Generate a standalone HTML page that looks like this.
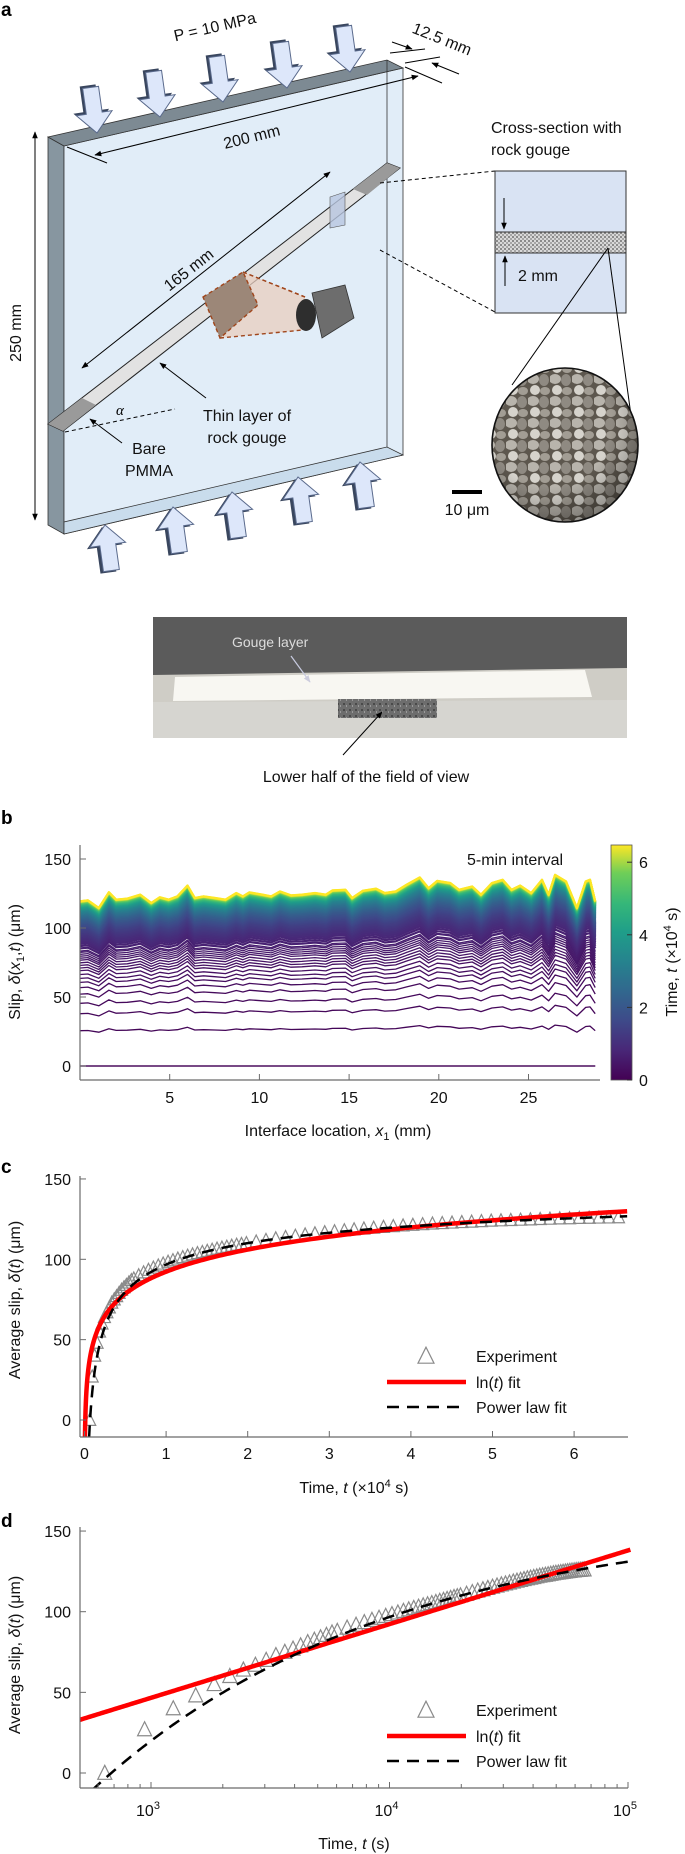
<!DOCTYPE html>
<html><head><meta charset="utf-8">
<style>
html,body{margin:0;padding:0;background:#fff;}
svg{display:block;font-family:"Liberation Sans",sans-serif;}
.t{font-size:16px;fill:#111;}
.lab{font-size:19px;font-weight:bold;fill:#000;}
</style></head>
<body>
<svg id="fig" xmlns="http://www.w3.org/2000/svg" width="685" height="1854" viewBox="0 0 685 1854">
<defs>
  <pattern id="grain" width="22" height="22" patternUnits="userSpaceOnUse">
    <rect width="22" height="22" fill="#5d574e"/>
    <ellipse cx="5" cy="5" rx="6" ry="5" fill="#b8b4ac"/>
    <ellipse cx="16" cy="6" rx="5" ry="6" fill="#8f8a82"/>
    <ellipse cx="7" cy="16" rx="5" ry="5" fill="#d6d3cc"/>
    <ellipse cx="17" cy="17" rx="5" ry="4" fill="#a29d94"/>
  </pattern>
  <pattern id="gougePat" width="4" height="4" patternUnits="userSpaceOnUse">
    <rect width="4" height="4" fill="#d8d8d8"/>
    <rect width="2" height="2" fill="#8a8a8a"/>
    <rect x="2" y="2" width="2" height="2" fill="#a5a5a5"/>
  </pattern>
  <pattern id="speck" width="6" height="6" patternUnits="userSpaceOnUse">
    <rect width="6" height="6" fill="#6d6d6d"/>
    <rect x="1" y="1" width="2" height="2" fill="#4a4a4a"/>
    <rect x="4" y="3" width="1" height="2" fill="#9a9a9a"/>
  </pattern>
  <linearGradient id="viridis" x1="0" y1="1" x2="0" y2="0">
    <stop offset="0" stop-color="#440154"/><stop offset="0.13" stop-color="#482878"/>
    <stop offset="0.25" stop-color="#3e4989"/><stop offset="0.38" stop-color="#31688e"/>
    <stop offset="0.5" stop-color="#26828e"/><stop offset="0.63" stop-color="#1f9e89"/>
    <stop offset="0.75" stop-color="#35b779"/><stop offset="0.88" stop-color="#6ece58"/>
    <stop offset="1" stop-color="#fde725"/>
  </linearGradient>
  <radialGradient id="circShade" cx="0.4" cy="0.35" r="0.7">
    <stop offset="0.6" stop-color="#000" stop-opacity="0"/><stop offset="1" stop-color="#000" stop-opacity="0.35"/>
  </radialGradient>
  <marker id="ah" viewBox="0 0 10 10" refX="9" refY="5" markerWidth="7" markerHeight="7" orient="auto-start-reverse"><path d="M0,1 L10,5 L0,9 Z" fill="#000"/></marker>
  <marker id="ahg" viewBox="0 0 10 10" refX="9" refY="5" markerWidth="6" markerHeight="6" orient="auto"><path d="M0,1 L10,5 L0,9 Z" fill="#ccd"/></marker>
  <clipPath id="clipB"><rect x="80" y="845" width="520" height="235"/></clipPath>
  <clipPath id="clipC"><rect x="80" y="1170" width="560" height="267"/></clipPath>
  <clipPath id="clipD"><rect x="80" y="1522" width="560" height="266"/></clipPath>
  <clipPath id="circClip"><ellipse cx="565" cy="445" rx="73" ry="77"/></clipPath>
</defs>

<!-- ================= PANEL A ================= -->
<g>
  <text class="lab" x="1" y="16">a</text>
  <!-- slab -->
  <polygon points="48,137 64,146 64,534 48,525" fill="#8796a0" stroke="#333" stroke-width="0.8"/>
  <polygon points="64,146 403,68 403,455 64,534" fill="#e1edf8" stroke="#333" stroke-width="0.8"/>
  <polygon points="48,137 387,60 403,68 64,146" fill="#7d8a93" stroke="#333" stroke-width="0.8"/>
  <line x1="387" y1="60" x2="387" y2="447" stroke="#333" stroke-width="0.8"/>
  <polygon points="64,534 403,455 387,447 64,522" fill="#c9dcec" stroke="#333" stroke-width="0.8"/>
  <!-- gouge strip -->
  <polygon points="48,424 387,163 400,168 63,431" fill="#e2e2e2" stroke="#222" stroke-width="1"/>
  <polygon points="48,424 82,398 96,405 63,431" fill="#9a9a9a"/>
  <polygon points="353,189 387,163 400,168 367,195" fill="#9a9a9a"/>
  <polygon points="330,197 345,192 345,225 330,228" fill="#b8c6e0" fill-opacity="0.8" stroke="#555" stroke-width="0.6"/>
  <!-- camera region -->
  <polygon points="203,297 243,272 305,297 303,330 220,338" fill="#e8cdbf" fill-opacity="0.75"/>
  <polygon points="203,297 243,272 258,305 220,338" fill="#9c8778"/>
  <polyline points="243,272 305,297 M0,0" fill="none" stroke="#a0461c" stroke-width="1.4" stroke-dasharray="4,3"/>
  <line x1="243" y1="272" x2="305" y2="297" stroke="#a0461c" stroke-width="1.4" stroke-dasharray="4,3"/>
  <line x1="220" y1="338" x2="303" y2="330" stroke="#a0461c" stroke-width="1.4" stroke-dasharray="4,3"/>
  <polygon points="203,297 243,272 258,305 220,338" fill="none" stroke="#a0461c" stroke-width="1.4" stroke-dasharray="4,3"/>
  <ellipse cx="306" cy="315" rx="10" ry="16" fill="#2e2e2e"/>
  <polygon points="312,293 345,285 354,318 322,338" fill="#6d6d6d" stroke="#333" stroke-width="0.8"/>
  <!-- dims -->
  <line x1="35" y1="132" x2="35" y2="520" stroke="#000" stroke-width="1" marker-start="url(#ah)" marker-end="url(#ah)"/>
  <text class="t" transform="translate(21,333) rotate(-90)" text-anchor="middle">250 mm</text>
  <line x1="95" y1="155" x2="418" y2="76" stroke="#000" stroke-width="1" marker-start="url(#ah)" marker-end="url(#ah)"/>
  <line x1="67" y1="147" x2="107" y2="163" stroke="#000" stroke-width="1"/>
  <text class="t" transform="translate(253,142) rotate(-14)" text-anchor="middle">200 mm</text>
  <line x1="82" y1="368" x2="330" y2="172" stroke="#000" stroke-width="1" marker-start="url(#ah)" marker-end="url(#ah)"/>
  <text class="t" transform="translate(192,274) rotate(-38)" text-anchor="middle">165 mm</text>
  <line x1="390" y1="53" x2="425" y2="49" stroke="#000"/>
  <line x1="405" y1="63" x2="440" y2="57" stroke="#000"/>
  <line x1="405" y1="67" x2="442" y2="83" stroke="#000"/>
  <line x1="392" y1="42" x2="412" y2="49" stroke="#000" marker-end="url(#ah)"/>
  <line x1="459" y1="74" x2="432" y2="63" stroke="#000" marker-end="url(#ah)"/>
  <text class="t" transform="translate(440,44) rotate(22)" text-anchor="middle">12.5 mm</text>
  <text class="t" transform="translate(216,32) rotate(-13)" text-anchor="middle">P = 10 MPa</text>
  <!-- alpha -->
  <line x1="65" y1="432" x2="175" y2="409" stroke="#000" stroke-width="1" stroke-dasharray="4,3"/>
  <text x="116" y="415" style="font-family:'Liberation Serif',serif;font-style:italic;font-size:15px">α</text>
  <line x1="206" y1="398" x2="160" y2="363" stroke="#000" marker-end="url(#ah)"/>
  <text class="t" x="247" y="421" text-anchor="middle">Thin layer of</text>
  <text class="t" x="247" y="443" text-anchor="middle">rock gouge</text>
  <line x1="122" y1="443" x2="90" y2="419" stroke="#000" marker-end="url(#ah)"/>
  <text class="t" x="149" y="454" text-anchor="middle">Bare</text>
  <text class="t" x="149" y="476" text-anchor="middle">PMMA</text>
  <g id="arrows"></g>
  <!-- cross section -->
  <text class="t" x="491" y="133">Cross-section with</text>
  <text class="t" x="491" y="155">rock gouge</text>
  <line x1="380" y1="183" x2="495" y2="171" stroke="#000" stroke-dasharray="4,3"/>
  <line x1="380" y1="250" x2="495" y2="312" stroke="#000" stroke-dasharray="4,3"/>
  <rect x="495" y="171" width="131" height="142" fill="#d9e3f3" stroke="#333" stroke-width="1"/>
  <rect x="495" y="232" width="131" height="21" fill="url(#gougePat)" stroke="#333" stroke-width="1"/>
  <line x1="504" y1="198" x2="504" y2="229" stroke="#000" marker-end="url(#ah)"/>
  <line x1="505" y1="286" x2="505" y2="256" stroke="#000" marker-end="url(#ah)"/>
  <text class="t" x="518" y="281">2 mm</text>
  <line x1="608" y1="248" x2="512" y2="385" stroke="#000"/>
  <line x1="608" y1="248" x2="633" y2="430" stroke="#000"/>
  <g clip-path="url(#circClip)">
    <rect x="490" y="365" width="150" height="160" fill="url(#grain)"/>
    <ellipse cx="565" cy="445" rx="73" ry="77" fill="url(#circShade)"/>
  </g>
  <ellipse cx="565" cy="445" rx="73" ry="77" fill="none" stroke="#111" stroke-width="1.6"/>
  <rect x="452" y="490" width="30" height="4" fill="#000"/>
  <text class="t" x="467" y="515" text-anchor="middle">10 μm</text>
  <!-- photo -->
  <g>
    <rect x="153" y="617" width="474" height="121" fill="#d6d5d0"/>
    <rect x="153" y="617" width="474" height="58" fill="#5b5b5b"/>
    <polygon points="153,675 627,668 627,700 153,702" fill="#cfcdc6"/>
    <polygon points="175,677 585,670 592,697 173,701" fill="#f8f7f2"/>
    <rect x="338" y="699" width="99" height="19" fill="url(#speck)"/>
    <text x="232" y="647" style="font-size:14px;fill:#dcdcdc">Gouge layer</text>
    <line x1="291" y1="656" x2="310" y2="682" stroke="#c8cbe0" stroke-width="1.2" marker-end="url(#ahg)"/>
  </g>
  <line x1="343" y1="755" x2="382" y2="712" stroke="#000" marker-end="url(#ah)"/>
  <text class="t" x="366" y="782" text-anchor="middle">Lower half of the field of view</text>
</g>

<!-- ================= PANEL B ================= -->
<g>
  <text class="lab" x="1" y="824">b</text>
  <g id="bCurves" clip-path="url(#clipB)"></g>
  <g id="bAxes"></g>
  <text class="t" x="515" y="865" text-anchor="middle">5-min interval</text>
  <text class="t" transform="translate(20,962) rotate(-90)" text-anchor="middle">Slip, <tspan font-style="italic">δ</tspan>(<tspan font-style="italic">x</tspan><tspan font-size="11" dy="4">1</tspan><tspan dy="-4">,</tspan><tspan font-style="italic">t</tspan>) (μm)</text>
  <text class="t" x="338" y="1136" text-anchor="middle">Interface location, <tspan font-style="italic">x</tspan><tspan font-size="11" dy="4">1</tspan><tspan dy="-4"> (mm)</tspan></text>
  <rect x="611" y="845" width="21" height="235" fill="url(#viridis)" stroke="#555" stroke-width="0.8"/>
  <g id="cbTicks"></g>
  <text class="t" transform="translate(677,962) rotate(-90)" text-anchor="middle">Time, <tspan font-style="italic">t</tspan> (×10<tspan font-size="11" dy="-6">4</tspan><tspan dy="6"> s)</tspan></text>
</g>

<!-- ================= PANEL C ================= -->
<g>
  <text class="lab" x="1" y="1173">c</text>
  <g id="cPlot" clip-path="url(#clipC)"></g>
  <g id="cAxes"></g>
  <text class="t" transform="translate(20,1300) rotate(-90)" text-anchor="middle">Average slip, <tspan font-style="italic">δ</tspan>(<tspan font-style="italic">t</tspan>) (μm)</text>
  <text class="t" x="354" y="1493" text-anchor="middle">Time, <tspan font-style="italic">t</tspan> (×10<tspan font-size="11" dy="-6">4</tspan><tspan dy="6"> s)</tspan></text>
  <g id="cLegend"></g>
</g>

<!-- ================= PANEL D ================= -->
<g>
  <text class="lab" x="1" y="1527">d</text>
  <g id="dPlot" clip-path="url(#clipD)"></g>
  <g id="dAxes"></g>
  <text class="t" transform="translate(20,1655) rotate(-90)" text-anchor="middle">Average slip, <tspan font-style="italic">δ</tspan>(<tspan font-style="italic">t</tspan>) (μm)</text>
  <text class="t" x="354" y="1849" text-anchor="middle">Time, <tspan font-style="italic">t</tspan> (s)</text>
  <g id="dLegend"></g>
</g>
</svg>

<script>
// ---------- data ----------
// experiment: time (s) and average slip (um)
var expTime = [640,940,1240,1540,1840,2140,2440,2740,3040,3340,3640,3940,4240,4540,4840,5140,5440,5740,6040,
 6640,7240,7840,8440,9040,9640,10240,10840,11440,12040,12640,13240,13840,14440,15040,15640,16240,16840,17440,18040,18640,19240,19840,
 21040,22240,23440,24640,25840,27040,28240,29440,30640,31840,33040,34240,35440,36640,37840,39040,40240,41440,42640,43840,45040,46240,47440,48640,49840,51040,52240,53440,54640,55840,57040,58240,59440,60640,61840,63040,64240,65440];
var expSlip = [0,27,40,48,55,60,64,67,70,73,75,77,79,81,82.5,84,85.5,87,88,
 90,91.8,93.4,94.8,96.1,97.3,98.4,99.4,100.4,101.3,102.2,103,103.8,104.5,105.2,105.9,106.6,107.2,107.8,108.4,109,109.5,110,
 111,112,113,113.8,114.6,115.4,116.1,116.8,117.4,118,118.6,119.1,119.6,120.1,120.6,121,121.4,121.8,122.2,122.5,122.8,123.1,123.4,123.7,124,124.2,124.4,124.6,124.8,125,125.2,125.4,125.5,125.7,125.8,125.9,126,126.1];
// ln(t) fit: slip = lnA + lnB*log10(t)
var lnFit = [-90.5, 45.7];
// power law fit: slip = C - A*t^(-p)
var powFit = [158.7, 1557, 0.35];
// top slip profile (panel b): positions (mm) and slip (um)
var profX = [0.02,0.44,1.05,1.61,2.02,2.63,3.36,3.97,4.45,4.94,5.43,5.99,6.40,6.89,7.50,8.11,8.71,9.08,9.44,10.18,10.66,11.15,11.76,12.37,13.10,13.70,14.07,14.80,15.17,15.77,16.50,16.99,17.60,18.21,18.94,19.43,19.91,20.64,21.13,21.86,22.35,22.96,23.56,24.05,24.54,25.15,25.75,26.12,26.48,27.09,27.70,28.19,28.43,28.72];
var profY = [120.3,121.0,115.4,126.9,121.5,122.2,125.1,119.1,123.2,121.5,123.9,131.8,122.7,123.9,122.7,121.5,126.3,123.9,126.8,125.1,123.9,127.5,124.6,125.1,126.3,125.1,128.2,128.7,122.7,128.0,129.5,126.3,127.5,132.4,137.7,129.9,135.2,133.6,128.7,131.1,125.1,133.6,136.0,128.7,131.8,126.3,136.0,125.1,139.6,134.8,115.4,134.8,136.0,120.3];
// axis ticks
var bXTicks = [5,10,15,20,25];
var bYTicks = [0,50,100,150];
var cbTicks = [0,2,4,6];
var cXTicks = [0,1,2,3,4,5,6];
var cYTicks = [0,50,100,150];
var dXTicks = [1000,10000,100000];
var dXTickLabels = ["3","4","5"];
var dYTicks = [0,50,100,150];

// ---------- helpers ----------
var NS = "http://www.w3.org/2000/svg";
function mk(tag, attrs, parent){var e=document.createElementNS(NS,tag);for(var k in attrs)e.setAttribute(k,attrs[k]);parent.appendChild(e);return e;}
var vstops=[[68,1,84],[72,40,120],[62,73,137],[49,104,142],[38,130,142],[31,158,137],[53,183,121],[110,206,88],[253,231,37]];
function viridis(f){f=Math.max(0,Math.min(1,f));var s=f*8,i=Math.min(7,Math.floor(s)),r=s-i,a=vstops[i],b=vstops[i+1];
 return "rgb("+Math.round(a[0]+(b[0]-a[0])*r)+","+Math.round(a[1]+(b[1]-a[1])*r)+","+Math.round(a[2]+(b[2]-a[2])*r)+")";}
var AX="#6b6b6b";

// ---------- load arrows (panel a) ----------
(function(){
 var g=document.getElementById('arrows');
 var down=[[97,133],[160,117],[223,102],[287,88],[350,72]];
 var up=[[105,525],[173,507],[232,492],[298,477],[360,462]];
 function arrow(x,y,dir,idx){
  var s=dir; // 1 = pointing down, -1 = up
  var p="M0,0 L-18,"+(-20*s)+" L-8,"+(-20*s)+" L-8,"+(-46*s)+" L8,"+(-46*s)+" L8,"+(-20*s)+" L18,"+(-20*s)+" Z";
  var sh=mk('path',{d:p,fill:'#39465e',transform:'translate('+(x-3)+','+(y+ (s>0?-2:2))+') rotate(-8)'},g);
  var a=mk('path',{d:p,fill:'#dde7fa',stroke:'#5a6a8c','stroke-width':'1',transform:'translate('+x+','+y+') rotate(-8)'},g);
  
  
 }
 down.forEach(function(d,i){arrow(d[0],d[1],1,i);});
 up.forEach(function(d,i){arrow(d[0],d[1],-1,i);});
})();

// ---------- panel b ----------
function xb(v){return 80+v*17.94;}
function yb(v){return 1066-v*1.38;}
(function(){
 var g=document.getElementById('bCurves');
 var mean=profY.reduce(function(a,b){return a+b;},0)/profY.length;
 var times=[0].concat(expTime), slips=[0].concat(expSlip);
 for(var i=0;i<times.length;i++){
  var pts=[];
  for(var j=0;j<profX.length;j++){pts.push(xb(profX[j]).toFixed(1)+","+yb(profY[j]*slips[i]/mean).toFixed(1));}
  var pl=mk('polyline',{points:pts.join(" "),fill:'none',stroke:viridis(times[i]/64700),'stroke-width':(i<20?1.3:2.2),'stroke-linejoin':'round'},g);
  
  
 }
 var ax=document.getElementById('bAxes');
 mk('line',{x1:80,y1:845,x2:80,y2:1080,stroke:AX,'stroke-width':1.2},ax);
 mk('line',{x1:80,y1:1080,x2:600,y2:1080,stroke:AX,'stroke-width':1.2},ax);
 bXTicks.forEach(function(v){
  mk('line',{x1:xb(v),y1:1080,x2:xb(v),y2:1074,stroke:AX},ax);
  var t=mk('text',{x:xb(v),y:1103,'text-anchor':'middle','class':'t'},ax);t.textContent=v;
  
  
 });
 bYTicks.forEach(function(v){
  mk('line',{x1:80,y1:yb(v),x2:86,y2:yb(v),stroke:AX},ax);
  var t=mk('text',{x:71,y:yb(v)+6,'text-anchor':'end','class':'t'},ax);t.textContent=v;
  
  
 });
 var cb=document.getElementById('cbTicks');
 cbTicks.forEach(function(v){
  var y=1080-v*36.3;
  mk('line',{x1:627,y1:y,x2:632,y2:y,stroke:'#333'},cb);
  var t=mk('text',{x:639,y:y+6,'class':'t'},cb);t.textContent=v;
  
  
 });
})();

// ---------- panel c & d ----------
function lnVal(t){return lnFit[0]+lnFit[1]*Math.log10(t);}
function powVal(t){return powFit[0]-powFit[1]*Math.pow(t,-powFit[2]);}
function tri(g,x,y,s,name){
 var p=mk('polygon',{points:x+","+(y-s*0.55)+" "+(x-s/2)+","+(y+s*0.45)+" "+(x+s/2)+","+(y+s*0.45),fill:'none',stroke:'#8a8a8a','stroke-width':1.2},g);
 
 
 return p;
}
function legend(g,y0){
 tri(g,426,y0,16,'legend-marker-experiment');
 var t1=mk('text',{x:476,y:y0+6,'class':'t'},g);t1.textContent='Experiment';
 
 
 mk('line',{x1:387,y1:y0+26,x2:466,y2:y0+26,stroke:'#ff0000','stroke-width':4.5},g);
 var t2=mk('text',{x:476,y:y0+32,'class':'t'},g);
 t2.innerHTML='ln(<tspan font-style="italic">t</tspan>) fit';
 
 
 mk('line',{x1:387,y1:y0+51,x2:466,y2:y0+51,stroke:'#000','stroke-width':2.5,'stroke-dasharray':'12,8'},g);
 var t3=mk('text',{x:476,y:y0+57,'class':'t'},g);t3.textContent='Power law fit';
 
 
}

(function(){
 function xc(v){return 84.5+v*81.6;}
 function yc(v){return 1420-v*1.607;}
 var g=document.getElementById('cPlot');
 for(var i=0;i<expTime.length;i++) tri(g,xc(expTime[i]/1e4),yc(expSlip[i]),12,'experiment-point');
 var rp=[],bp=[];
 for(var k=0;k<=400;k++){
  var t=Math.pow(10,1.6+k*(Math.log10(66500)-1.6)/400);
  rp.push(xc(t/1e4).toFixed(2)+","+yc(lnVal(t)).toFixed(2));
  if(t>560) bp.push(xc(t/1e4).toFixed(2)+","+yc(Math.max(powVal(t),-30)).toFixed(2));
 }
 var r=mk('polyline',{points:rp.join(" "),fill:'none',stroke:'#ff0000','stroke-width':4.5},g);
 
 
 var b=mk('polyline',{points:bp.join(" "),fill:'none',stroke:'#000','stroke-width':2.5,'stroke-dasharray':'12,8'},g);
 
 
 var ax=document.getElementById('cAxes');
 mk('line',{x1:80,y1:1176,x2:80,y2:1437,stroke:AX,'stroke-width':1.2},ax);
 mk('line',{x1:80,y1:1437,x2:628,y2:1437,stroke:AX,'stroke-width':1.2},ax);
 cXTicks.forEach(function(v){
  mk('line',{x1:xc(v),y1:1437,x2:xc(v),y2:1431,stroke:AX},ax);
  var t=mk('text',{x:xc(v),y:1459,'text-anchor':'middle','class':'t'},ax);t.textContent=v;
  
  
 });
 cYTicks.forEach(function(v){
  mk('line',{x1:80,y1:yc(v),x2:86,y2:yc(v),stroke:AX},ax);
  var t=mk('text',{x:71,y:yc(v)+6,'text-anchor':'end','class':'t'},ax);t.textContent=v;
  
  
 });
 legend(document.getElementById('cLegend'),1356);
})();

(function(){
 function xd(t){return 151+(Math.log10(t)-3)*238.5;}
 function yd(v){return 1773-v*1.613;}
 var g=document.getElementById('dPlot');
 for(var i=0;i<expTime.length;i++) tri(g,xd(expTime[i]),yd(expSlip[i]),14,'experiment-point');
 var rp=[],bp=[];
 for(var k=0;k<=300;k++){
  var t=Math.pow(10,2.69+k*(5.01-2.69)/300);
  rp.push(xd(t).toFixed(2)+","+yd(lnVal(t)).toFixed(2));
  if(t>560) bp.push(xd(t).toFixed(2)+","+yd(Math.max(powVal(t),-30)).toFixed(2));
 }
 var r=mk('polyline',{points:rp.join(" "),fill:'none',stroke:'#ff0000','stroke-width':4.5},g);
 
 
 var b=mk('polyline',{points:bp.join(" "),fill:'none',stroke:'#000','stroke-width':2.5,'stroke-dasharray':'12,8'},g);
 
 
 var ax=document.getElementById('dAxes');
 mk('line',{x1:80,y1:1527,x2:80,y2:1788,stroke:AX,'stroke-width':1.2},ax);
 mk('line',{x1:80,y1:1788,x2:628,y2:1788,stroke:AX,'stroke-width':1.2},ax);
 for(var d=2;d<=4;d++){for(var m=1;m<=9;m++){var tv=m*Math.pow(10,d);var x=xd(tv);if(x<81||x>628)continue;
   mk('line',{x1:x,y1:1788,x2:x,y2:(m==1?1782:1784),stroke:AX},ax);}}
 mk('line',{x1:xd(1e5),y1:1788,x2:xd(1e5),y2:1782,stroke:AX},ax);
 dXTicks.forEach(function(v,i){
  var t=mk('text',{x:xd(v)-3,y:1816,'text-anchor':'middle','class':'t'},ax);
  t.innerHTML='10<tspan font-size="11" dy="-7">'+dXTickLabels[i]+'</tspan>';
  
  
 });
 dYTicks.forEach(function(v){
  mk('line',{x1:80,y1:yd(v),x2:86,y2:yd(v),stroke:AX},ax);
  var t=mk('text',{x:71,y:yd(v)+6,'text-anchor':'end','class':'t'},ax);t.textContent=v;
  
  
 });
 legend(document.getElementById('dLegend'),1710);
})();
</script>
</body></html>
